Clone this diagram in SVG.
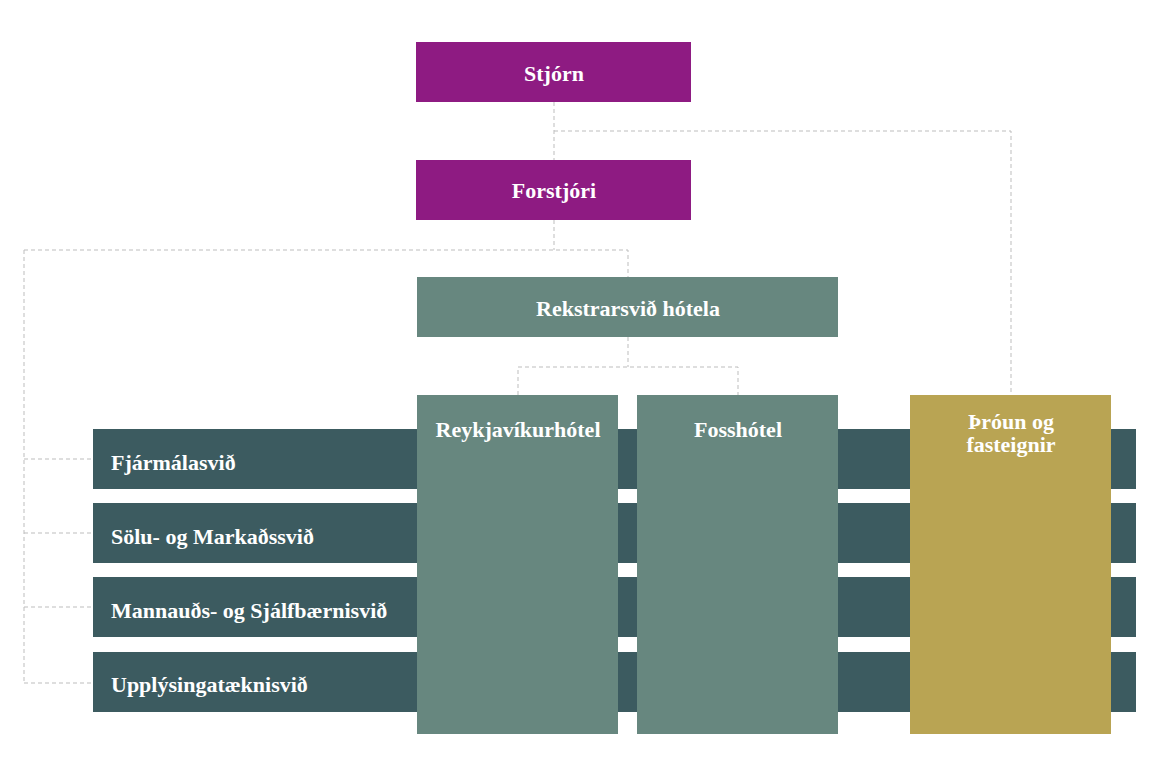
<svg xmlns="http://www.w3.org/2000/svg" width="1160" height="763" viewBox="0 0 1160 763">
<style>
.purple{fill:#8e1b82}
.sage{fill:#67877f}
.dark{fill:#3c5b60}
.gold{fill:#b9a453}
.t{font-family:"Liberation Serif","Times New Roman",serif;font-weight:bold;font-size:22px;fill:#ffffff}
.c{text-anchor:middle}
.conn{fill:none;stroke:#bdbdbd;stroke-width:1;stroke-dasharray:4 3}
</style>
<rect width="1160" height="763" fill="#ffffff"/>
<g id="connectors">
<path class="conn" d="M554 102 V160"/>
<path class="conn" d="M554 131 H1011 V395"/>
<path class="conn" d="M554 220 V250"/>
<path class="conn" d="M24 250 H628 V277"/>
<path class="conn" d="M24 250 V683"/>
<path class="conn" d="M24 459 H93"/>
<path class="conn" d="M24 533 H93"/>
<path class="conn" d="M24 607 H93"/>
<path class="conn" d="M24 683 H93"/>
<path class="conn" d="M628 337 V367 M518 395 V367 H738 V395"/>
</g>
<g id="fjarmalasvid"><rect class="dark" x="93" y="429" width="1043" height="60"/><text class="t" x="111" y="470">Fjármálasvið</text></g>
<g id="solu"><rect class="dark" x="93" y="503" width="1043" height="60"/><text class="t" x="111" y="544">Sölu- og Markaðssvið</text></g>
<g id="mannauds"><rect class="dark" x="93" y="577" width="1043" height="60"/><text class="t" x="111" y="618">Mannauðs- og Sjálfbærnisvið</text></g>
<g id="upplysinga"><rect class="dark" x="93" y="652" width="1043" height="60"/><text class="t" x="111" y="692">Upplýsingatæknisvið</text></g>
<g id="stjorn"><rect class="purple" x="416" y="42" width="275" height="60"/><text class="t c" x="554" y="81">Stjórn</text></g>
<g id="forstjori"><rect class="purple" x="416" y="160" width="275" height="60"/><text class="t c" x="554" y="198">Forstjóri</text></g>
<g id="rekstrarsvid"><rect class="sage" x="417" y="277" width="421" height="60"/><text class="t c" x="628" y="316">Rekstrarsvið hótela</text></g>
<g id="reykjavikurhotel"><rect class="sage" x="417" y="395" width="201" height="339"/><text class="t c" x="518" y="437">Reykjavíkurhótel</text></g>
<g id="fosshotel"><rect class="sage" x="637" y="395" width="201" height="339"/><text class="t c" x="738" y="437">Fosshótel</text></g>
<g id="throun"><rect class="gold" x="910" y="395" width="201" height="339"/><text class="t c" x="1011" y="429">Þróun og</text><text class="t c" x="1011" y="452">fasteignir</text></g>
</svg>
